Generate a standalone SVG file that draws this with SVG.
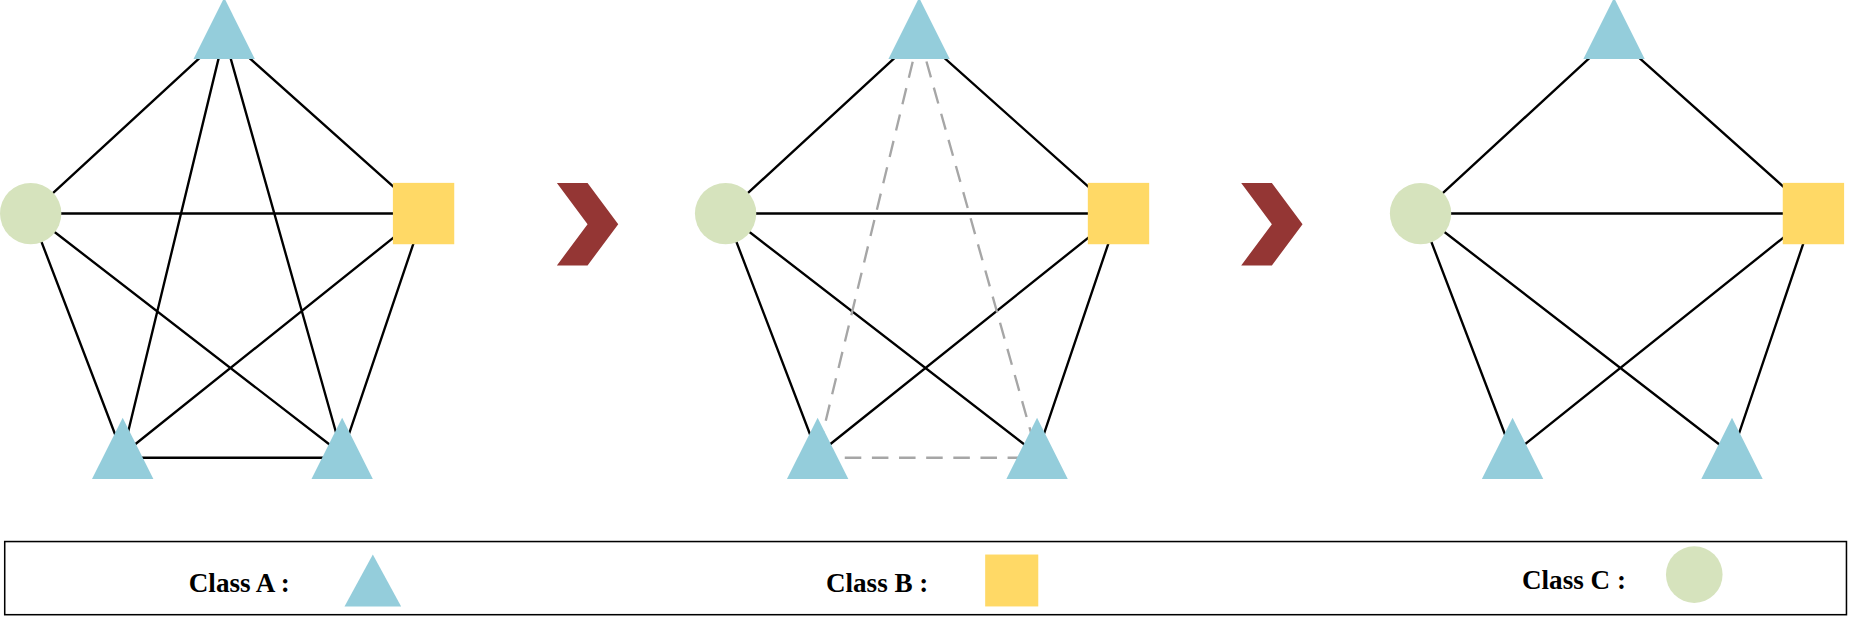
<svg xmlns="http://www.w3.org/2000/svg" width="1850" height="617" viewBox="0 0 1850 617">
<style>
.e{stroke:#000;stroke-width:2;fill:none}
.d{stroke:#a6a6a6;stroke-width:2;fill:none;stroke-dasharray:14,9}
.tri{fill:#94cddb}
.sq{fill:#ffd966}
.ci{fill:#d6e3bd}
.chev{fill:#943634}
.lbl{font-family:"Liberation Serif",serif;font-weight:bold;font-size:23px;fill:#000}
</style>
<defs>
<polygon id="T" class="tri" points="0,-26 26,26 -26,26"/>
<polygon id="C" class="chev" points="0,0 26,0 52,35 26,70 0,70 26,35"/>
</defs>
<rect width="1850" height="617" fill="#fff"/>
<g transform="scale(1.17985)">
<g id="connectors">
<g>
<path class="e" d="M190,30L26,181M190,30L359,181M190,30L104,385M190,30L290,385M26,181L359,181M26,181L104,385M26,181L290,385M359,181L104,385M359,181L290,385M104,388L290,388"/>
</g>
<g transform="translate(589,0)">
<path class="e" d="M190,30L26,181M190,30L359,181M26,181L359,181M26,181L104,385M26,181L290,385M359,181L104,385M359,181L290,385"/>
<path class="d" d="M190,30L104,385M190,30L290,385M104,388L290,388"/>
</g>
<g transform="translate(1178,0)">
<path class="e" d="M190,30L26,181M190,30L359,181M26,181L359,181M26,181L104,385M26,181L290,385M359,181L104,385M359,181L290,385"/>
</g>
</g>
<g id="p1-top"><use href="#T" x="190" y="24"/></g>
<g id="p1-circle"><circle class="ci" cx="26" cy="181" r="26"/></g>
<g id="p1-square"><rect class="sq" x="333" y="155" width="52" height="52"/></g>
<g id="p1-bl"><use href="#T" x="104" y="380"/></g>
<g id="p1-br"><use href="#T" x="290" y="380"/></g>
<g id="arrow1"><use href="#C" x="472" y="155"/></g>
<g id="p2-top"><use href="#T" x="779" y="24"/></g>
<g id="p2-circle"><circle class="ci" cx="615" cy="181" r="26"/></g>
<g id="p2-square"><rect class="sq" x="922" y="155" width="52" height="52"/></g>
<g id="p2-bl"><use href="#T" x="693" y="380"/></g>
<g id="p2-br"><use href="#T" x="879" y="380"/></g>
<g id="arrow2"><use href="#C" x="1052" y="155"/></g>
<g id="p3-top"><use href="#T" x="1368" y="24"/></g>
<g id="p3-circle"><circle class="ci" cx="1204" cy="181" r="26"/></g>
<g id="p3-square"><rect class="sq" x="1511" y="155" width="52" height="52"/></g>
<g id="p3-bl"><use href="#T" x="1282" y="380"/></g>
<g id="p3-br"><use href="#T" x="1468" y="380"/></g>
<g id="legend">
<rect x="4" y="459" width="1561" height="62" fill="none" stroke="#000" stroke-width="1.3"/>
<text class="lbl" x="160" y="502">Class A :</text>
<polygon class="tri" points="316,470 340,514 292,514"/>
<text class="lbl" x="700" y="502">Class B :</text>
<rect class="sq" x="835" y="470" width="45" height="44"/>
<text class="lbl" x="1290" y="499">Class C :</text>
<circle class="ci" cx="1436" cy="487" r="24"/>
</g>
</g>
</svg>
